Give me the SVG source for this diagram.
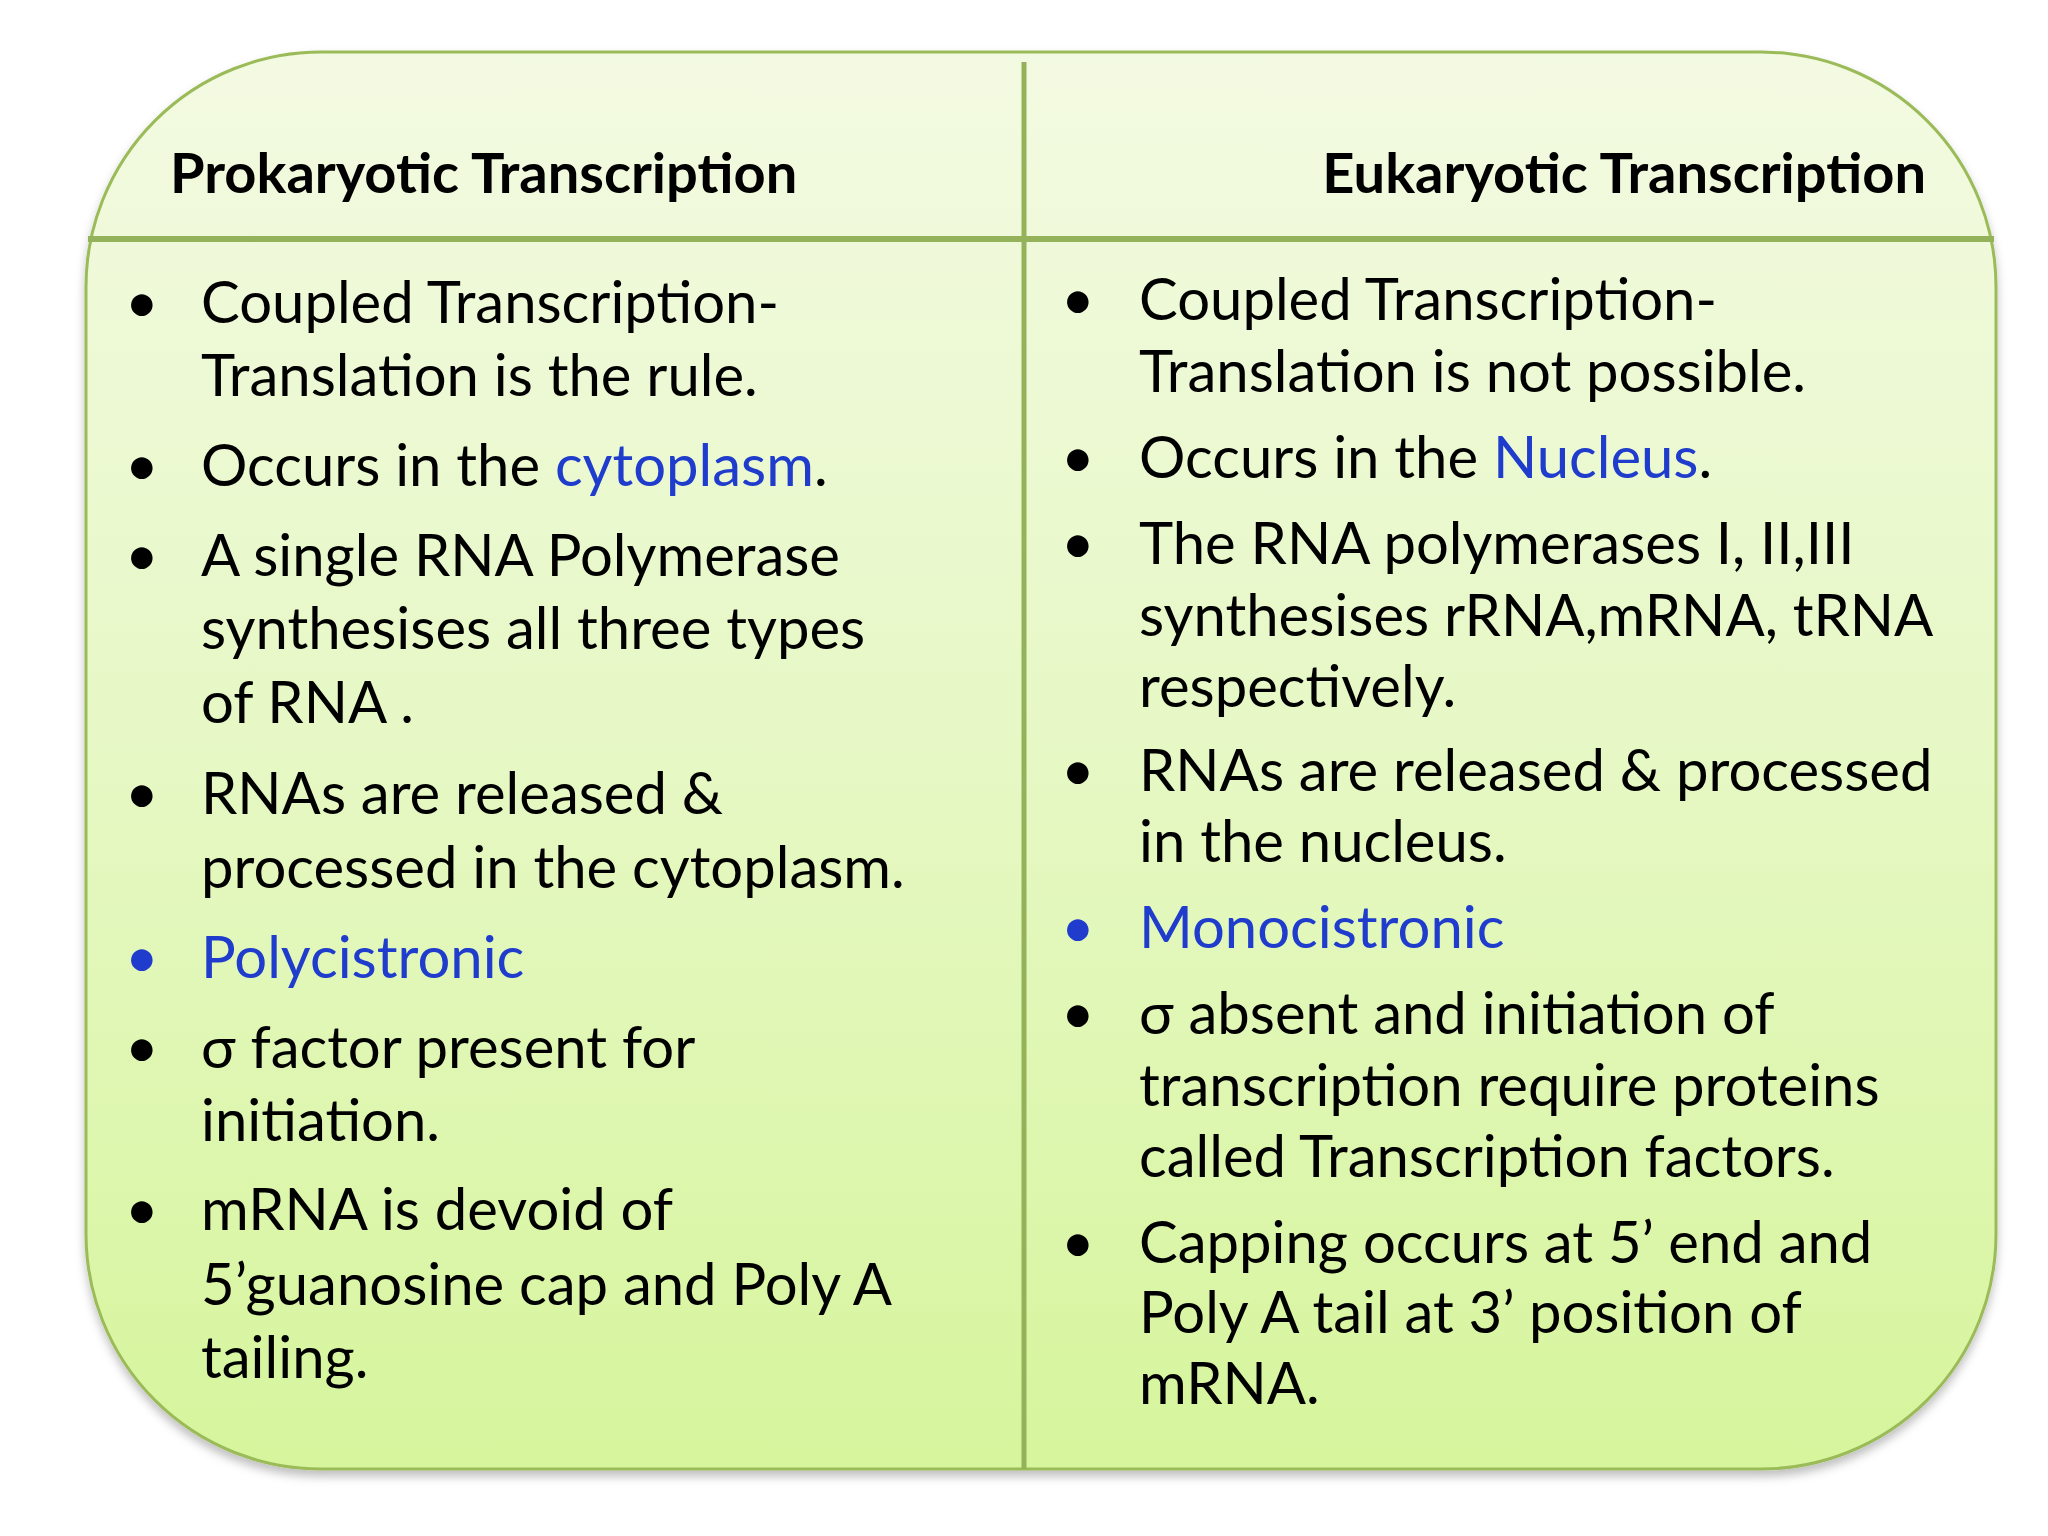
<svg xmlns="http://www.w3.org/2000/svg" width="2048" height="1536" viewBox="0 0 2048 1536">
<defs>
<linearGradient id="g" x1="0" y1="0" x2="0" y2="1">
<stop offset="0" stop-color="#f3fae2"/>
<stop offset="0.5" stop-color="#e6f8c4"/>
<stop offset="1" stop-color="#d6f59c"/>
</linearGradient>
<filter id="sh" x="-5%" y="-5%" width="110%" height="110%"><feDropShadow dx="0" dy="6" stdDeviation="5" flood-color="#000" flood-opacity="0.25"/></filter>
</defs>
<style>
text{font-family:Lato,"Open Sans","Liberation Sans",sans-serif;font-size:58px;fill:#000}
.h{font-weight:bold;font-size:56px}
.b{fill:#1f3ccc}
</style>
<rect width="2048" height="1536" fill="#fff"/>
<g id="panel">
<rect x="86" y="52" width="1910" height="1417" rx="235" ry="235" fill="url(#g)" stroke="#9bbb59" stroke-width="3" filter="url(#sh)"/>
<line x1="1024" y1="62" x2="1024" y2="1469" stroke="#93b25a" stroke-width="5"/>
<line x1="88" y1="239" x2="1994" y2="239" stroke="#93b25a" stroke-width="6"/>
</g>
<g id="headers">
<text class="h" x="170" y="193">Prokaryotic Transcription</text>
<text class="h" x="1926" y="193" text-anchor="end">Eukaryotic Transcription</text>
</g>
<g id="left">
<text x="125" y="323">•</text><text x="201" y="323">Coupled Transcription-</text>
<text x="201" y="396">Translation  is the rule.</text>
<text x="125" y="486">•</text><text x="201" y="486">Occurs in the <tspan class="b">cytoplasm</tspan>.</text>
<text x="125" y="576">•</text><text x="201" y="576">A single RNA Polymerase</text>
<text x="201" y="649">synthesises all three types</text>
<text x="201" y="723">of RNA .</text>
<text x="125" y="814">•</text><text x="201" y="814">RNAs are released &amp;</text>
<text x="201" y="888">processed in the cytoplasm.</text>
<text x="125" y="978" class="b">•</text><text x="201" y="978" class="b">Polycistronic</text>
<text x="125" y="1068">•</text><text x="201" y="1068">σ factor present for</text>
<text x="201" y="1141">initiation.</text>
<text x="125" y="1230">•</text><text x="201" y="1230">mRNA is devoid of</text>
<text x="201" y="1305">5’guanosine cap and Poly A</text>
<text x="201" y="1378">tailing.</text>
</g>
<g id="right">
<text x="1061" y="320">•</text><text x="1139" y="320">Coupled Transcription-</text>
<text x="1139" y="392">Translation is not possible.</text>
<text x="1061" y="478">•</text><text x="1139" y="478">Occurs in the <tspan class="b">Nucleus</tspan>.</text>
<text x="1061" y="564">•</text><text x="1139" y="564">The RNA polymerases I, II,III</text>
<text x="1139" y="636">synthesises rRNA,mRNA, tRNA</text>
<text x="1139" y="707">respectively.</text>
<text x="1061" y="791">•</text><text x="1139" y="791">RNAs are released &amp; processed</text>
<text x="1139" y="862">in the nucleus.</text>
<text x="1061" y="948" class="b">•</text><text x="1139" y="948" class="b">Monocistronic</text>
<text x="1061" y="1034">•</text><text x="1139" y="1034">σ absent and initiation of</text>
<text x="1139" y="1106">transcription require proteins</text>
<text x="1139" y="1177">called Transcription factors.</text>
<text x="1061" y="1263">•</text><text x="1139" y="1263">Capping occurs at 5’ end and</text>
<text x="1139" y="1333">Poly A tail at 3’ position of</text>
<text x="1139" y="1404">mRNA.</text>
</g>
</svg>
